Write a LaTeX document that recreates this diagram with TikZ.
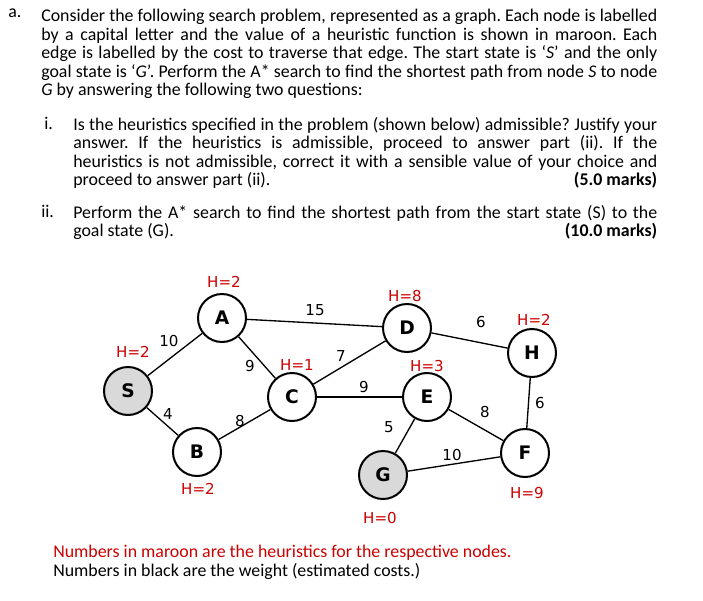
\documentclass[tikz,border=0pt]{standalone}
\usepackage{fontspec}
\setmainfont{Carlito}
\newfontfamily\verd{DejaVu Sans}
\definecolor{hred}{RGB}{204,0,0}
\definecolor{gfill}{RGB}{217,217,217}
\frenchspacing
\begin{document}
\begin{tikzpicture}[x=0.75pt,y=-0.75pt,
  nd/.style={circle,draw,line width=1.5pt,minimum size=36pt,inner sep=0pt,fill=white,font=\verd\bfseries\fontsize{14}{15}\selectfont},
  gnd/.style={nd,fill=gfill},
  hl/.style={text=hred,font=\verd\fontsize{11.3}{12}\selectfont,inner sep=0pt},
  wl/.style={font=\verd\fontsize{11.3}{12}\selectfont,inner sep=0pt},
  ed/.style={line width=1pt},
  para/.style={anchor=north west,inner sep=0pt,align=justify,font=\fontsize{13.4}{13.9}\selectfont}]
\useasboundingbox (0,0) rectangle (703,600);
\node[para,anchor=north west] (la) at (8,9) {a.};
\node[para,text width=462pt] (pa) at (41,9) {Consider the following search problem, represented as a graph. Each node is labelled\linebreak by a capital letter and the value of a heuristic function is shown in maroon. Each\linebreak edge is labelled by the cost to traverse that edge. The start state is `\textit{S}' and the only\linebreak goal state is `\textit{G}'. Perform the A* search to find the shortest path from node \textit{S} to node\linebreak \textit{G} by answering the following two questions:};
\node[para] (li) at (44,117) {i.};
\node[para,text width=438pt] (pi) at (73,117) {Is the heuristics specified in the problem (shown below) admissible? Justify your\linebreak answer. If the heuristics is admissible, proceed to answer part (ii). If the\linebreak heuristics is not admissible, correct it with a sensible value of your choice and\linebreak proceed to answer part (ii).\hfill\textbf{(5.0 marks)}};
\node[para] (lii) at (41,205) {ii.};
\node[para,text width=438pt] (pii) at (73,205) {Perform the A* search to find the shortest path from the start state (S) to the\linebreak goal state (G).\hfill\textbf{(10.0 marks)}};
\node[para,align=left] (note) at (53,545) {\textcolor{hred}{Numbers in maroon are the heuristics for the respective nodes.}\\Numbers in black are the weight (estimated costs.)};
% nodes
\node[gnd] (S) at (128,391) {S};
\node[nd] (A) at (222,318) {A};
\node[nd] (B) at (197,452) {B};
\node[nd] (C) at (292,397) {C};
\node[nd] (D) at (407,328) {D};
\node[nd] (E) at (427,397) {E};
\node[nd] (H) at (532,353) {H};
\node[nd] (F) at (525,453) {F};
\node[gnd] (G) at (383,475) {G};
% edges
\draw[ed] (S)--(A); \draw[ed] (S)--(B); \draw[ed] (A)--(C); \draw[ed] (B)--(C);
\draw[ed] (A)--(D); \draw[ed] (C)--(D); \draw[ed] (C)--(E); \draw[ed] (D)--(H);
\draw[ed] (E)--(G); \draw[ed] (E)--(F); \draw[ed] (H)--(F); \draw[ed] (G)--(F);
% heuristics
\node[hl] (hS) at (133,352) {H=2};
\node[hl] (hA) at (224,282) {H=2};
\node[hl] (hB) at (198,489) {H=2};
\node[hl] (hC) at (297,365) {H=1};
\node[hl] (hD) at (405,296) {H=8};
\node[hl] (hE) at (427,366) {H=3};
\node[hl] (hH) at (534,320) {H=2};
\node[hl] (hF) at (527,493) {H=9};
\node[hl] (hG) at (380,518) {H=0};
% weights
\node[wl] (w1) at (169,341) {10};
\node[wl] (w2) at (168,414) {4};
\node[wl] (w3) at (250,366) {9};
\node[wl] (w4) at (240,421) {8};
\node[wl] (w5) at (315,310) {15};
\node[wl] (w6) at (341,356) {7};
\node[wl] (w7) at (364,387) {9};
\node[wl] (w8) at (481,322) {6};
\node[wl] (w9) at (540,403) {6};
\node[wl] (w10) at (485,412) {8};
\node[wl] (w11) at (389,427) {5};
\node[wl] (w12) at (452,455) {10};
\end{tikzpicture}
\end{document}
